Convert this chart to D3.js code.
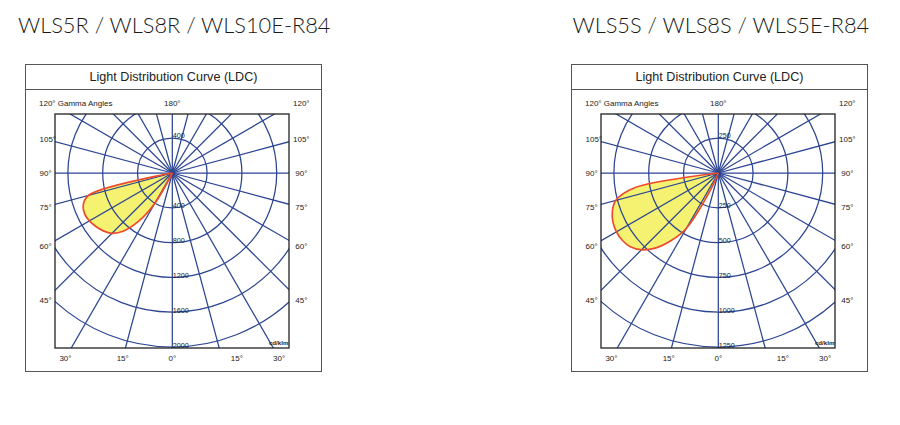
<!DOCTYPE html>
<html>
<head>
<meta charset="utf-8">
<script src="https://cdn.jsdelivr.net/npm/d3@7"></script>
<style>
  body { margin: 0; background: #fff; }
  svg text { font-family: "Liberation Sans", Arial, sans-serif; fill: #222; }
  .header { font-family: Lato, "Open Sans", sans-serif; font-weight: 300; fill: #1a1a1a; }
</style>
</head>
<body>
<div class="chart"></div>
<script>
// Data.
const headers = ["WLS5R / WLS8R / WLS10E-R84", "WLS5S / WLS8S / WLS5E-R84"];
const chartTitle = "Light Distribution Curve (LDC)";
const unitLabel = "cd/klm";

const ringTicksA = [400, 800, 1200, 1600, 2000];
const ringTicksB = [250, 500, 750, 1000, 1250];

// Gamma angles (deg from nadir) and intensities (cd/klm), one half plane.
const gammaA = [25, 30, 35, 40, 45, 50, 55, 60, 65, 70, 75, 80, 85];
const intensityA = [0, 400, 680, 870, 980, 1035, 1072, 1100, 1112, 1090, 1000, 100, 0];

const gammaB = [20, 25, 30, 35, 40, 45, 50, 55, 60, 65, 70, 75, 80, 85];
const intensityB = [0, 150, 460, 595, 705, 780, 825, 842, 845, 835, 810, 763, 610, 0];

// Angle tick labels.
const sideAngles = [105, 90, 75, 60, 45];
const bottomAngles = [-30, -15, 0, 15, 30];

// Layout.
const width = 900;
const height = 425;
const svg = d3
  .select(".chart")
  .append("svg")
  .attr("width", width)
  .attr("height", height);

const toRad = (d) => (d * Math.PI) / 180;

function drawPanel(idx, offsetX, ticks, gammas, values) {
  const g = svg.append("g").attr("transform", `translate(${offsetX}, 0)`);
  const cx = 172.3;
  const cy = 173;
  const plot = { x0: 55, y0: 114, x1: 289, y1: 348 };
  const rScale = d3.scaleLinear().domain([0, d3.max(ticks)]).range([0, 174]);

  // Header.
  g.append("text")
    .attr("class", "header")
    .attr("x", idx === 0 ? 18 : 26.5)
    .attr("y", 33.3)
    .style("font-size", "21.8px")
    .text(headers[idx]);

  // Box + title band.
  g.append("rect")
    .attr("x", 25.5)
    .attr("y", 64.5)
    .attr("width", 296)
    .attr("height", 307)
    .attr("fill", "none")
    .attr("stroke", "#555")
    .attr("stroke-width", 1);
  g.append("line")
    .attr("x1", 25.5)
    .attr("x2", 321.5)
    .attr("y1", 89.5)
    .attr("y2", 89.5)
    .attr("stroke", "#555");
  g.append("text")
    .attr("x", 173.5)
    .attr("y", 81.2)
    .attr("text-anchor", "middle")
    .style("font-size", "12.6px")
    .text(chartTitle);

  // Clip for the polar grid.
  const clipId = "clip" + idx;
  g.append("clipPath")
    .attr("id", clipId)
    .append("rect")
    .attr("x", plot.x0)
    .attr("y", plot.y0)
    .attr("width", plot.x1 - plot.x0)
    .attr("height", plot.y1 - plot.y0);

  const grid = g.append("g").attr("clip-path", `url(#${clipId})`);
  const gridColor = "#2c4592";

  // Curve.
  const pts = gammas.map((d, i) => [d, values[i]]);
  const radial = d3
    .lineRadial()
    .angle((d) => Math.PI + toRad(d[0]))
    .radius((d) => rScale(d[1]))
    .curve(d3.curveCatmullRom.alpha(0.5));
  grid
    .append("path")
    .attr("transform", `translate(${cx}, ${cy})`)
    .attr("d", radial(pts))
    .attr("fill", "#f5f272")
    .attr("stroke", "none");

  grid
    .selectAll(".ring")
    .data(ticks)
    .enter()
    .append("circle")
    .attr("cx", cx)
    .attr("cy", cy)
    .attr("r", (d) => rScale(d))
    .attr("fill", "none")
    .attr("stroke", gridColor)
    .attr("stroke-width", 1.25);

  grid
    .selectAll(".spoke")
    .data(d3.range(0, 360, 15))
    .enter()
    .append("line")
    .attr("x1", cx)
    .attr("y1", cy)
    .attr("x2", (a) => cx + 400 * Math.sin(toRad(a)))
    .attr("y2", (a) => cy + 400 * Math.cos(toRad(a)))
    .attr("stroke", gridColor)
    .attr("stroke-width", 1.25);

  grid
    .append("path")
    .attr("transform", `translate(${cx}, ${cy})`)
    .attr("d", radial(pts))
    .attr("fill", "none")
    .attr("stroke", "#ee4a2b")
    .attr("stroke-width", 1.7)
    .attr("stroke-linejoin", "round");

  // Plot frame.
  g.append("rect")
    .attr("x", plot.x0)
    .attr("y", plot.y0)
    .attr("width", plot.x1 - plot.x0)
    .attr("height", plot.y1 - plot.y0)
    .attr("fill", "none")
    .attr("stroke", "#222")
    .attr("stroke-width", 1.3);

  // Ring labels.
  const lab = g.append("g").style("font-size", "7.2px");
  lab
    .selectAll(".rl")
    .data(ticks)
    .enter()
    .append("text")
    .attr("x", cx + 0.5)
    .attr("y", (d) => cy + rScale(d) + 0.5)
    .text((d) => d);
  lab
    .append("text")
    .attr("x", cx + 0.5)
    .attr("y", cy - rScale(ticks[0]) - 0.5)
    .text(ticks[0]);

  lab
    .append("text")
    .attr("x", plot.x1 - 0.5)
    .attr("y", plot.y1 - 3)
    .attr("text-anchor", "end")
    .style("font-size", "6.2px")
    .style("font-weight", "bold")
    .text(unitLabel);

  // Gamma angle labels.
  const ang = g.append("g").style("font-size", "8px");
  const topY = cy - 67.2;
  ang.append("text").attr("x", 39).attr("y", topY).text("120° Gamma Angles");
  ang.append("text").attr("x", cx).attr("y", topY).attr("text-anchor", "middle").text("180°");
  ang.append("text").attr("x", cx + 129).attr("y", topY).attr("text-anchor", "middle").text("120°");

  const sideY = (a) => cy + (127 * Math.cos(toRad(a))) / Math.sin(toRad(a)) + 2.8;
  ang
    .selectAll(".sl")
    .data(sideAngles)
    .enter()
    .append("text")
    .attr("x", 39.5)
    .attr("y", sideY)
    .text((d) => d + "°");
  ang
    .selectAll(".sr")
    .data(sideAngles)
    .enter()
    .append("text")
    .attr("x", cx + 129)
    .attr("y", sideY)
    .attr("text-anchor", "middle")
    .text((d) => d + "°");

  ang
    .selectAll(".bl")
    .data(bottomAngles)
    .enter()
    .append("text")
    .attr("x", (d) => cx + 185 * Math.tan(toRad(d)) + (d === 15 ? 15 : 0))
    .attr("y", cy + 187.8)
    .attr("text-anchor", "middle")
    .text((d) => Math.abs(d) + "°");
}

drawPanel(0, 0, ringTicksA, gammaA, intensityA);
drawPanel(1, 546, ringTicksB, gammaB, intensityB);
</script>
</body>
</html>
